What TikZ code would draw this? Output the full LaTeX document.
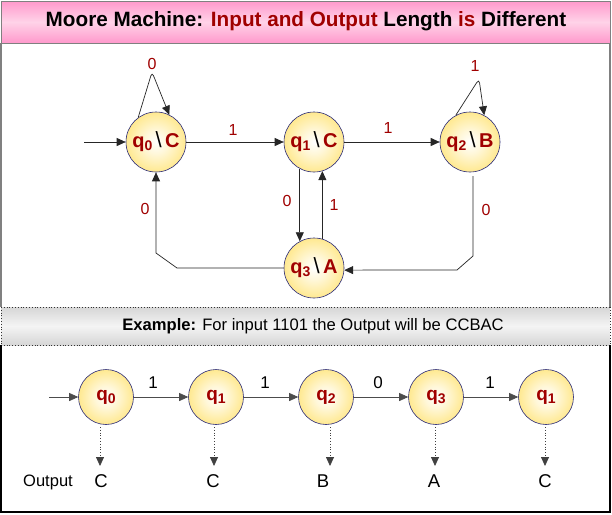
\documentclass[tikz,border=0pt]{standalone}
\usepackage{fontspec}
\setmainfont{Liberation Sans}
\usetikzlibrary{arrows.meta,calc}
\definecolor{dred}{HTML}{A00000}
\definecolor{stedge}{HTML}{2A2A78}
\definecolor{pinkA}{HTML}{FF99CC}
\definecolor{pinkB}{HTML}{FFD3E8}
\definecolor{grayA}{HTML}{D6D6D6}
\definecolor{grayB}{HTML}{F4F4F4}
\definecolor{shA}{HTML}{FFF7D8}
\definecolor{shB}{HTML}{FFE478}
\definecolor{shC}{HTML}{FFCC22}
\definecolor{shD}{HTML}{F2B500}
\pgfdeclareradialshading{stateshade}{\pgfpoint{0bp}{0bp}}{color(0bp)=(white); color(10bp)=(shA); color(30bp)=(shB); color(44bp)=(shC); color(50bp)=(shD)}
\newcommand{\qsub}[1]{q\raisebox{-3pt}{\fontsize{14}{14}\selectfont #1}}
\newcommand{\qslash}{\,{\color{black}\mdseries\fontsize{22}{22}\selectfont\textbackslash}\,}
\tikzset{
  st/.style={circle, draw=stedge, line width=0.6pt, minimum size=60pt, inner sep=0pt,
    shading=stateshade, text=dred, font=\fontsize{20}{22}\selectfont\bfseries},
  sst/.style={st, minimum size=55pt, font=\fontsize{19}{21}\selectfont\bfseries},
  tr/.style={draw=black!85, line width=0.7pt, -{Triangle[length=9pt,width=8pt]}},
  outarr/.style={draw=black!75, dotted, line width=0.8pt, -{Triangle[length=9pt,width=8pt]}},
  lbl/.style={text=dred, font=\fontsize{16}{18}\selectfont},
  blbl/.style={text=black, font=\fontsize{17}{19}\selectfont},
  outl/.style={text=black, font=\fontsize{18.5}{21}\selectfont}
}
\begin{document}
\begin{tikzpicture}[x=1pt,y=-1pt]
\useasboundingbox (0,0) rectangle (612,514);
\fill[white] (0,0) rectangle (612,514);
% title band
\shade[top color=pinkA, bottom color=pinkA, middle color=pinkB] (1,1) rectangle (610,43);
\draw[gray, line width=1pt] (1,1) rectangle (610,43);
\node (title) at (306,21) {\fontsize{20.7}{23}\selectfont\bfseries Moore Machine: {\color{dred}Input and Output} Length {\color{dred}is} Different};
% top section frame
\draw[gray, line width=1.2pt] (1,43) -- (1,307) (610,43) -- (610,307);
% example band
\shade[top color=grayA, bottom color=grayA, middle color=grayB] (1,307) rectangle (610,345);
\draw[black!80, dotted, line width=0.8pt] (1,307) -- (610,307) (1,345) -- (610,345) (1,307) -- (1,345) (610,307) -- (610,345);
\node (ex) at (313,326) {\fontsize{16.6}{19}\selectfont\textbf{Example:} For input 1101 the Output will be CCBAC};
% bottom frame
\draw[black, line width=1.2pt] (1,345) -- (1,512) -- (610,512) -- (610,345);

% ---- top machine
\node[st] (q0) at (156,142) {\qsub{0}\qslash C};
\node[st] (q1) at (314,142) {\qsub{1}\qslash C};
\node[st] (q2) at (470,142) {\qsub{2}\qslash B};
\node[st] (q3) at (314,268) {\qsub{3}\qslash A};

\coordinate (s0) at (84,142);
\draw[tr] (s0) -- (q0);
\draw[tr] (q0) -- (q1);
\node[lbl] (e01) at (233,130) {1};
\draw[tr] (q1) -- (q2);
\node[lbl] (e12) at (388,128) {1};

\coordinate (l0) at (152,72);
\draw[tr, rounded corners=4pt] (q0.126) -- (l0) -- (q0.64);
\node[lbl] (l0t) at (152,64) {0};
\coordinate (l2) at (479,79);
\draw[tr, rounded corners=4pt] (q2.118) -- (l2) -- (q2.62);
\node[lbl] (l2t) at (475,66) {1};

\draw[tr] (q1.242) -- (q3.118);
\node[lbl] (e13) at (287,201) {0};
\draw[tr] (q3.74.5) -- (q1.-74.5);
\node[lbl] (e31) at (334,205) {1};

\coordinate (a1) at (177,268);
\coordinate (a2) at (156,253);
\draw[tr] (q3.west) -- (a1) -- (a2) -- (q0.south);
\node[lbl] (e30) at (145,209) {0};

\coordinate (b0) at (473,176);
\coordinate (b1) at (473,256);
\coordinate (b2) at (457,270);
\draw[tr] (b0) -- (b1) -- (b2) -- (q3.-4);
\node[lbl] (e23) at (486,210) {0};

% ---- bottom run
\node[sst] (r0) at (106,397) {\qsub{0}};
\node[sst] (r1) at (216,397) {\qsub{1}};
\node[sst] (r2) at (326,397) {\qsub{2}};
\node[sst] (r3) at (436,397) {\qsub{3}};
\node[sst] (r4) at (546,397) {\qsub{1}};
\coordinate (rs) at (49,397);
\draw[tr, draw=black!70] (rs) -- (r0);
\draw[tr, draw=black!70] (r0) -- (r1);
\draw[tr, draw=black!70] (r1) -- (r2);
\draw[tr, draw=black!70] (r2) -- (r3);
\draw[tr, draw=black!70] (r3) -- (r4);
\node[blbl] (t01) at (153,383) {1};
\node[blbl] (t12) at (265,383) {1};
\node[blbl] (t23) at (378,383) {0};
\node[blbl] (t34) at (490,383) {1};

\node[outl] (o0) at (101,481) {C};
\node[outl] (o1) at (213,481) {C};
\node[outl] (o2) at (323,481) {B};
\node[outl] (o3) at (434,481) {A};
\node[outl] (o4) at (545,481) {C};
\node[text=black, font=\fontsize{16.5}{19}\selectfont] (ol) at (48,482) {Output};
\foreach \i/\x in {0/100,1/214,2/330,3/435,4/545} {
  \coordinate (u\i) at (\x,427);
  \coordinate (d\i) at (\x,466);
  \draw[outarr] (u\i) -- (d\i);
}
\end{tikzpicture}
\end{document}
